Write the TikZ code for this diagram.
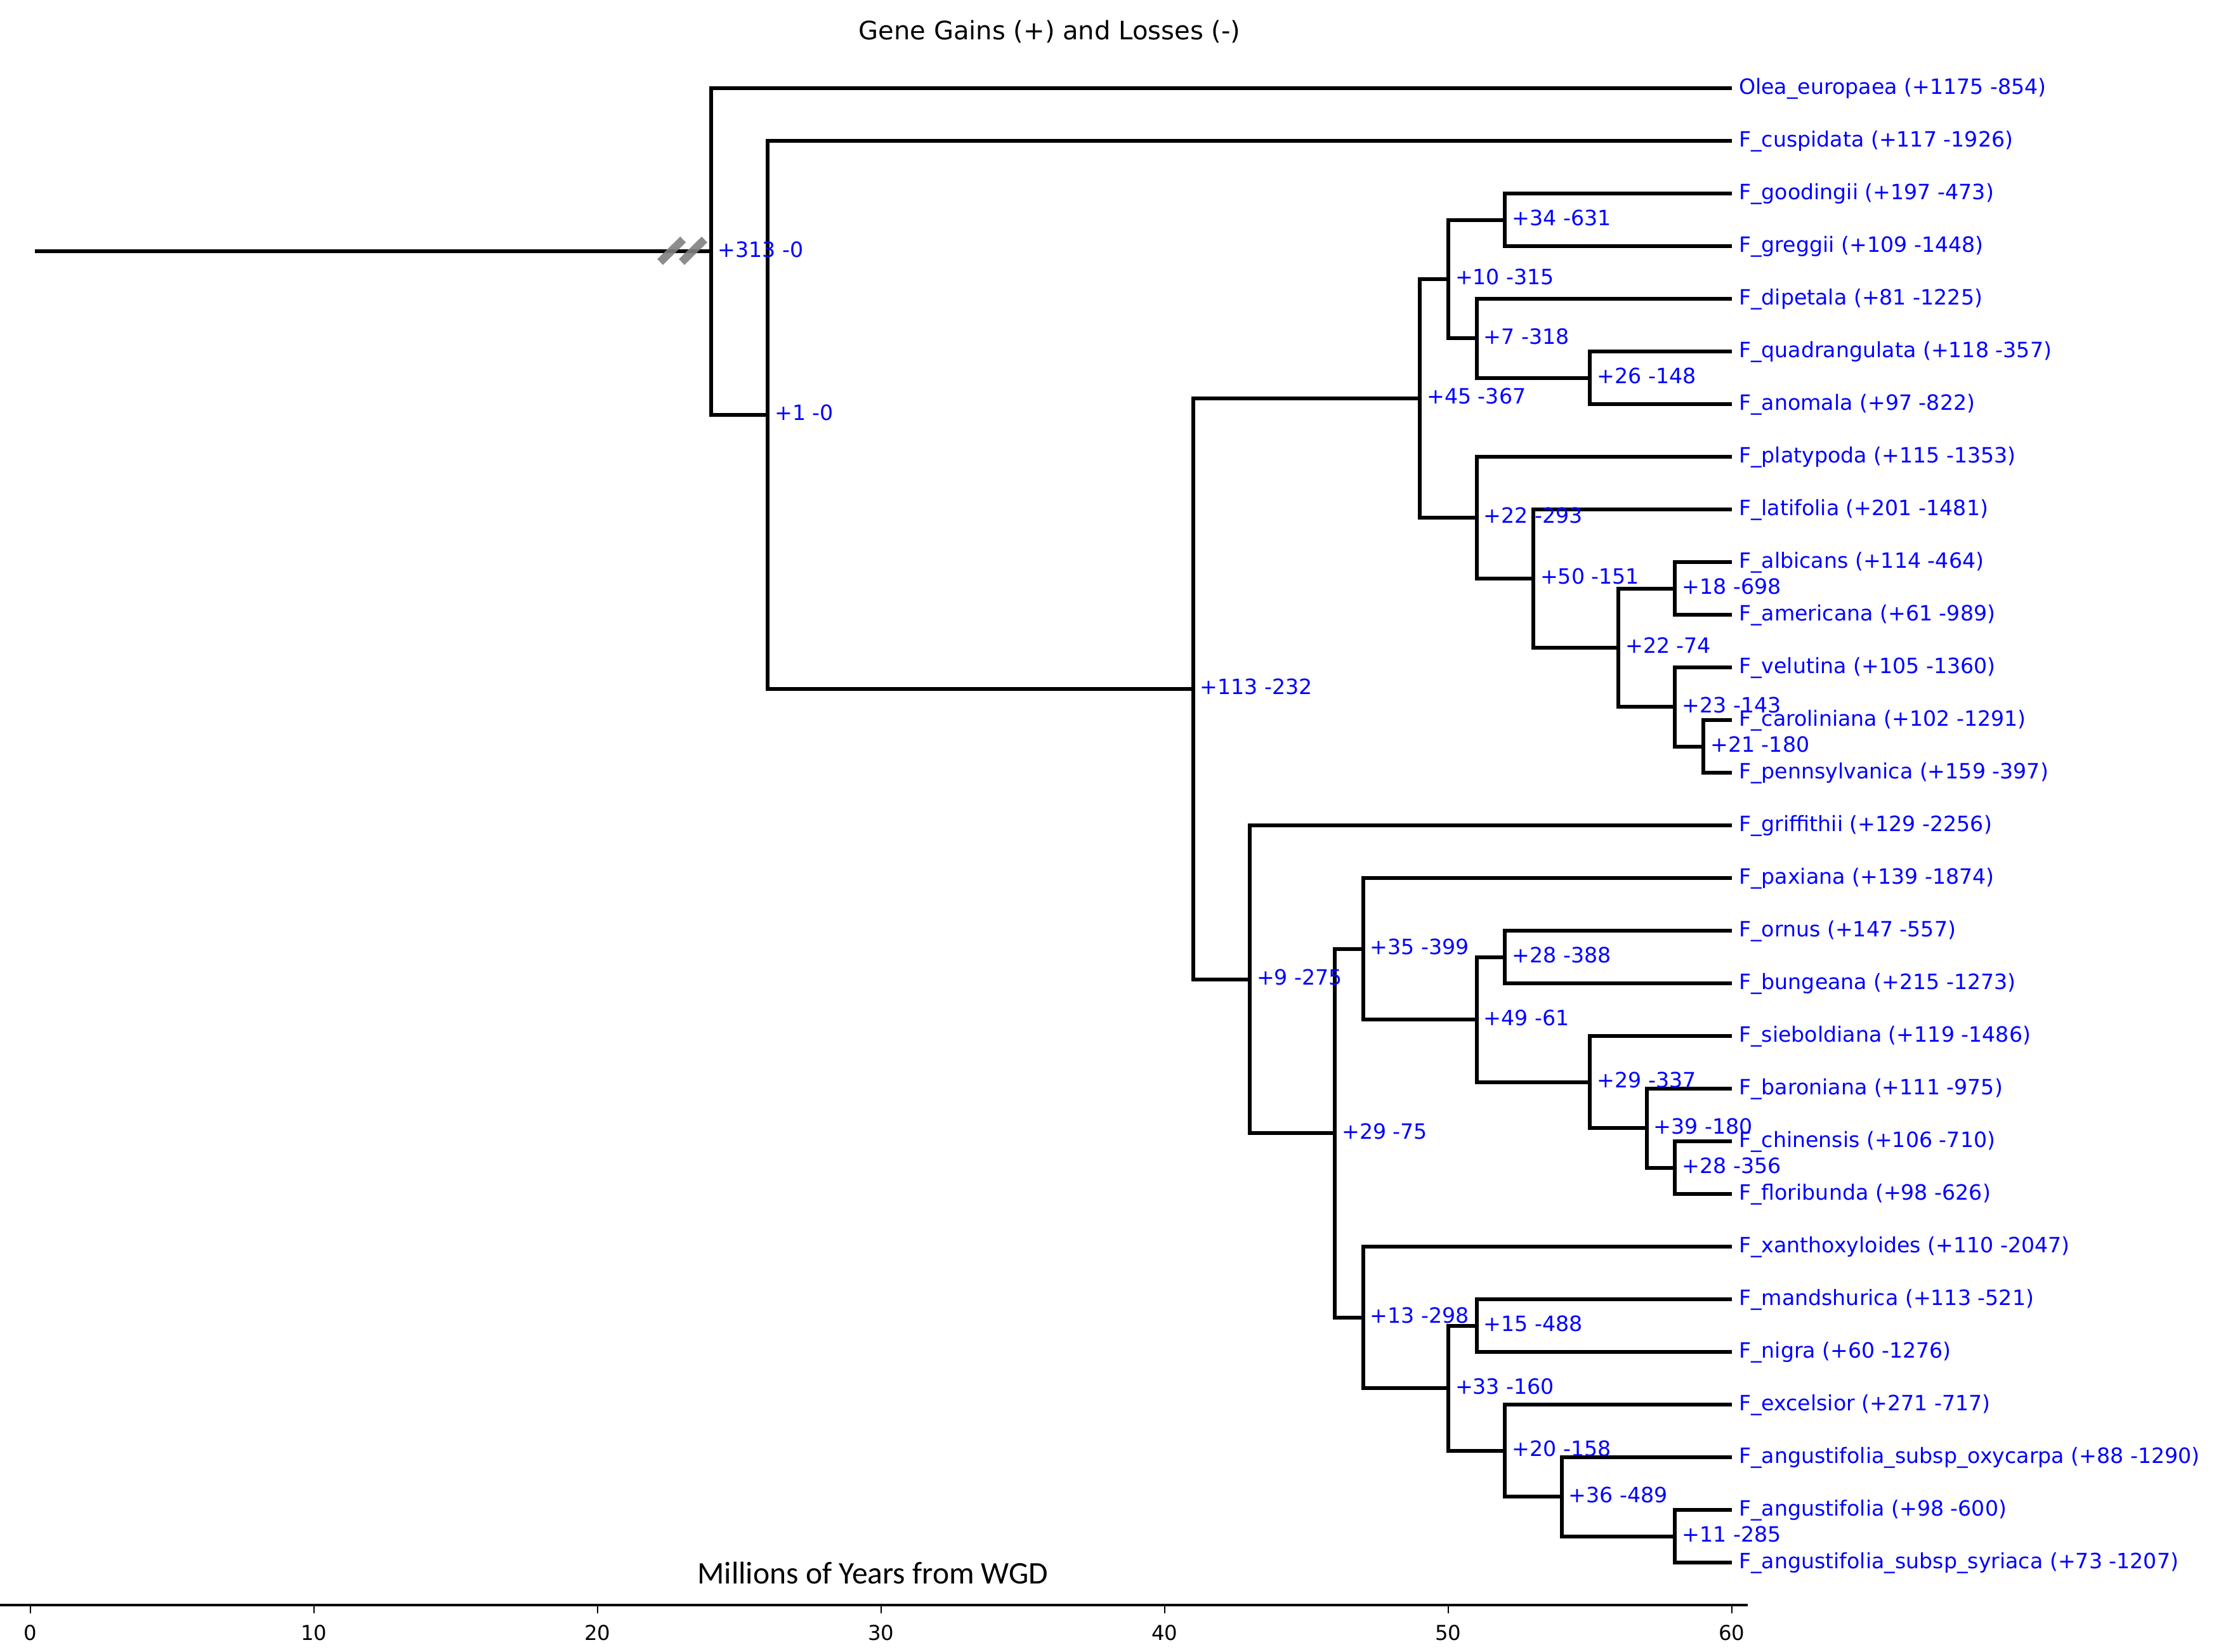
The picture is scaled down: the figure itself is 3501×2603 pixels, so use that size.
\documentclass[tikz,border=0pt]{standalone}
\usepackage{fontspec}
\setmainfont{DejaVu Sans}
\newfontfamily\carl{Carlito}
\pgfdeclarelayer{bg}
\pgfsetlayers{bg,main}
\newcommand\tnode[4]{\coordinate (#1) at ({47.8+44.7*#2},{139+83*#3}); \node[lab] (#1-lab) at (#1) {#4};}
\begin{document}
\begin{tikzpicture}[x=0.1mm,y=-0.1mm,
  br/.style={line width=0.6mm, black},
  lab/.style={anchor=base west, inner sep=0pt, text=blue, font=\fontsize{9.45}{11}\selectfont, xshift=1.05mm, yshift=-0.9mm},
  ticklab/.style={anchor=base, inner sep=0pt, font=\fontsize{9.2}{11}\selectfont},
  brk/.style={line width=1.27mm, color={rgb,255:red,128;green,128;blue,128}, opacity=0.9}]
\useasboundingbox (0,0) rectangle (3501,2603);
% leaves
\tnode{olea}{60}{0}{Olea\_europaea (+1175 -854)}
\tnode{cusp}{60}{1}{F\_cuspidata (+117 -1926)}
\tnode{good}{60}{2}{F\_goodingii (+197 -473)}
\tnode{greg}{60}{3}{F\_greggii (+109 -1448)}
\tnode{dip}{60}{4}{F\_dipetala (+81 -1225)}
\tnode{quad}{60}{5}{F\_quadrangulata (+118 -357)}
\tnode{anom}{60}{6}{F\_anomala (+97 -822)}
\tnode{platy}{60}{7}{F\_platypoda (+115 -1353)}
\tnode{lati}{60}{8}{F\_latifolia (+201 -1481)}
\tnode{albi}{60}{9}{F\_albicans (+114 -464)}
\tnode{amer}{60}{10}{F\_americana (+61 -989)}
\tnode{velu}{60}{11}{F\_velutina (+105 -1360)}
\tnode{caro}{60}{12}{F\_caroliniana (+102 -1291)}
\tnode{penn}{60}{13}{F\_pennsylvanica (+159 -397)}
\tnode{grif}{60}{14}{F\_griffithii (+129 -2256)}
\tnode{pax}{60}{15}{F\_paxiana (+139 -1874)}
\tnode{ornus}{60}{16}{F\_ornus (+147 -557)}
\tnode{bung}{60}{17}{F\_bungeana (+215 -1273)}
\tnode{sieb}{60}{18}{F\_sieboldiana (+119 -1486)}
\tnode{baron}{60}{19}{F\_baroniana (+111 -975)}
\tnode{chin}{60}{20}{F\_chinensis (+106 -710)}
\tnode{flor}{60}{21}{F\_floribunda (+98 -626)}
\tnode{xan}{60}{22}{F\_xanthoxyloides (+110 -2047)}
\tnode{mand}{60}{23}{F\_mandshurica (+113 -521)}
\tnode{nigra}{60}{24}{F\_nigra (+60 -1276)}
\tnode{exc}{60}{25}{F\_excelsior (+271 -717)}
\tnode{oxy}{60}{26}{F\_angustifolia\_subsp\_oxycarpa (+88 -1290)}
\tnode{ang}{60}{27}{F\_angustifolia (+98 -600)}
\tnode{syr}{60}{28}{F\_angustifolia\_subsp\_syriaca (+73 -1207)}
% internal nodes
\tnode{root}{24}{3.1015625}{+313 -0}
\tnode{A}{26}{6.203125}{+1 -0}
\tnode{B}{41}{11.40625}{+113 -232}
\tnode{C}{49}{5.890625}{+45 -367}
\tnode{E}{50}{3.625}{+10 -315}
\tnode{G}{52}{2.5}{+34 -631}
\tnode{H}{51}{4.75}{+7 -318}
\tnode{I}{55}{5.5}{+26 -148}
\tnode{F}{51}{8.15625}{+22 -293}
\tnode{J}{53}{9.3125}{+50 -151}
\tnode{K}{56}{10.625}{+22 -74}
\tnode{L}{58}{9.5}{+18 -698}
\tnode{M}{58}{11.75}{+23 -143}
\tnode{N}{59}{12.5}{+21 -180}
\tnode{D}{43}{16.921875}{+9 -275}
\tnode{O}{46}{19.84375}{+29 -75}
\tnode{P}{47}{16.34375}{+35 -399}
\tnode{R}{51}{17.6875}{+49 -61}
\tnode{S}{52}{16.5}{+28 -388}
\tnode{T}{55}{18.875}{+29 -337}
\tnode{U}{57}{19.75}{+39 -180}
\tnode{V}{58}{20.5}{+28 -356}
\tnode{Q}{47}{23.34375}{+13 -298}
\tnode{W}{50}{24.6875}{+33 -160}
\tnode{X}{51}{23.5}{+15 -488}
\tnode{Y}{52}{25.875}{+20 -158}
\tnode{Z}{54}{26.75}{+36 -489}
\tnode{AA}{58}{27.5}{+11 -285}
\coordinate (rootstart) at (55,{139+83*3.1015625});
\begin{pgfonlayer}{bg}
\draw[br] (rootstart) -- (root);
\foreach \p/\c in {root/olea,root/A,A/cusp,A/B,B/C,B/D,C/E,C/F,E/G,E/H,G/good,G/greg,H/dip,H/I,I/quad,I/anom,
  F/platy,F/J,J/lati,J/K,K/L,K/M,L/albi,L/amer,M/velu,M/N,N/caro,N/penn,
  D/grif,D/O,O/P,O/Q,P/pax,P/R,R/S,R/T,S/ornus,S/bung,T/sieb,T/U,U/baron,U/V,V/chin,V/flor,
  Q/xan,Q/W,W/X,W/Y,X/mand,X/nigra,Y/exc,Y/Z,Z/oxy,Z/AA,AA/ang,AA/syr}
  {\draw[br] (\p) |- (\c);}
\end{pgfonlayer}
% break marks
\draw[brk] (1040.5,413) -- (1076.7,377.5);
\draw[brk] (1074.5,413) -- (1110.5,377.5);
% axis
\draw[line width=0.35mm] (0,2530) -- (2755,2530);
\foreach \t in {0,10,...,60}{
  \draw[line width=0.25mm] ({47.8+44.7*\t},2530) -- ({47.8+44.7*\t},2543);
  \node[ticklab] (tick\t) at ({47.8+44.7*\t},2585) {\t};
}
\node[anchor=base, inner sep=0pt, font=\carl\fontsize{14.1}{16}\selectfont] (xlabel) at (1376,2496) {Millions of Years from WGD};
\node[anchor=base, inner sep=0pt, font=\fontsize{11.4}{13}\selectfont] (title) at (1654.5,62.5) {Gene Gains (+) and Losses (-)};
\end{tikzpicture}
\end{document}
